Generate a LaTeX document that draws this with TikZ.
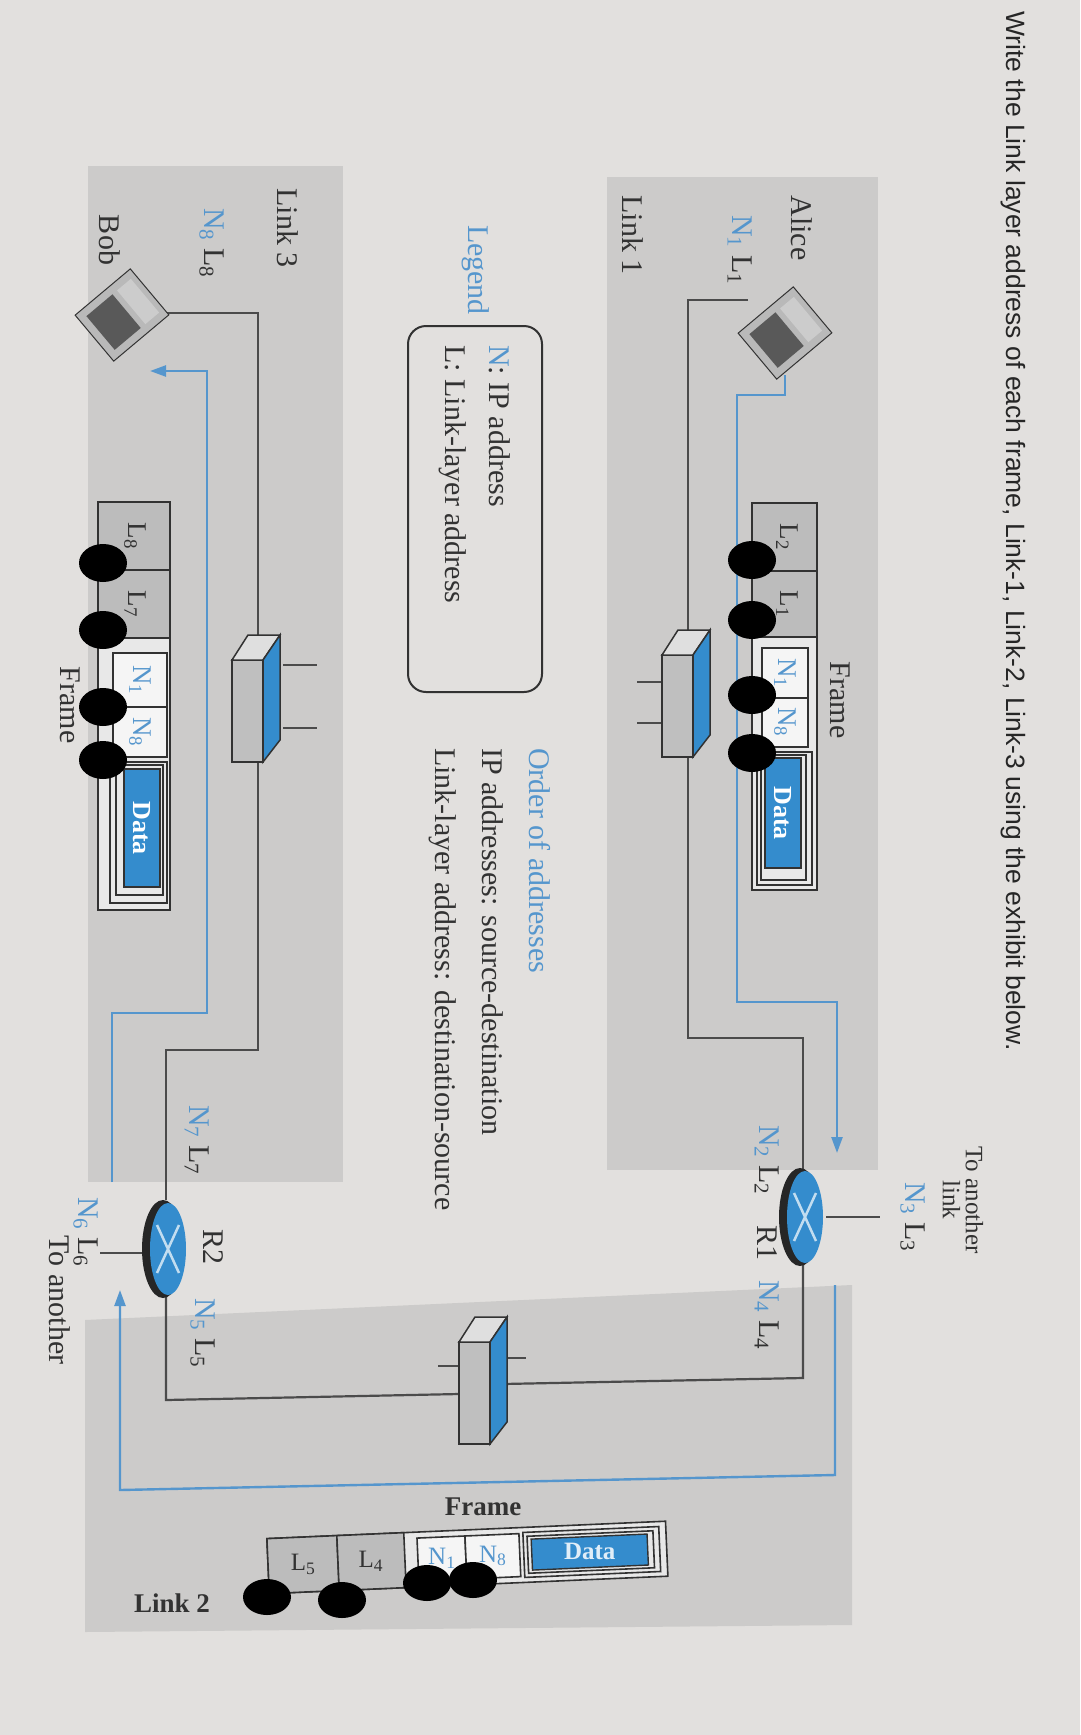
\documentclass[tikz,border=0pt]{standalone}
\usepackage{fontspec}
\setmainfont{Liberation Serif}
\newfontfamily\titlefont{Liberation Sans}
\usetikzlibrary{arrows.meta,shapes.geometric}
\definecolor{bgc}{RGB}{226,224,222}
\definecolor{panel}{RGB}{204,203,202}
\definecolor{netblue}{RGB}{52,140,205}
\definecolor{lblue}{RGB}{85,150,205}
\definecolor{ink}{RGB}{50,50,50}
\definecolor{cellg}{RGB}{188,188,188}
\definecolor{cellw}{RGB}{232,232,232}
\definecolor{wire}{RGB}{75,75,75}
\tikzset{
  lab/.style={rotate=-90, text=ink, font=\fontsize{30}{32}\selectfont, inner sep=0pt},
  blab/.style={lab, text=lblue},
  hlab/.style={text=ink, font=\fontsize{27}{29}\selectfont\bfseries, inner sep=0pt},
  cell/.style={rotate=-90, text=ink, font=\fontsize{27}{29}\selectfont, inner sep=0pt},
  hcell/.style={text=ink, font=\fontsize{25}{27}\selectfont, inner sep=0pt},
  fbox/.style={draw=ink, line width=1.6pt},
  gwire/.style={draw=wire, line width=2.2pt},
  bwire/.style={draw=lblue, line width=2.4pt},
  barrow/.style={bwire, -{Triangle[length=16pt,width=11pt]}},
  router/.pic={
    \fill[black!85] (-3,0) ellipse [x radius=21, y radius=49];
    \fill[netblue] (2,0) ellipse [x radius=18, y radius=46];
    \draw[white!70!netblue, line width=2.5pt] (-9,-24)--(13,24) (-9,24)--(13,-24);
  },
  switchbox/.pic={
    \filldraw[fill=gray!50, draw=ink, line width=1.5pt] (0,0) rectangle (31,102);
    \filldraw[fill=gray!25, draw=ink, line width=1.5pt] (0,0)--(16,-25)--(48,-25)--(31,0)--cycle;
    \filldraw[fill=netblue, draw=ink, line width=1.5pt] (31,0)--(48,-25)--(48,80)--(31,102)--cycle;
  },
  laptop/.pic={
    \begin{scope}[rotate=40]
      \filldraw[fill=gray!55, draw=gray!40!black, line width=1pt] (-36,-30) rectangle (36,30);
      \fill[gray!70!black] (-28,-22) rectangle (6,22);
      \fill[gray!40] (12,-22) rectangle (30,22);
    \end{scope}
  }
}
\begin{document}
\begin{tikzpicture}[x=1pt,y=-1pt]
\useasboundingbox (0,0) rectangle (1080,1735);
\fill[bgc] (0,0) rectangle (1080,1735);

% title
\node[rotate=-90, inner sep=0pt, text=black!85, font=\titlefont\fontsize{26.5}{28}\selectfont] (title) at (1013,531)
  {Write the Link layer address of each frame, Link-1, Link-2, Link-3 using the exhibit below.};

% panels
\fill[panel] (607,177) rectangle (878,1170);
\fill[panel] (88,166) rectangle (343,1182);
\fill[panel] (85,1320) -- (852,1285) -- (852,1625) -- (85,1632) -- cycle;

% named points
\coordinate (aliceG) at (748,300);
\coordinate (aliceB) at (785,375);
\coordinate (sw1top) at (688,645);
\coordinate (sw1bot) at (688,757);
\coordinate (r1top) at (803,1175);
\coordinate (r1bot) at (803,1262);
\coordinate (r1right) at (826,1217);
\coordinate (n3end) at (880,1217);
\coordinate (bobG) at (160,313);
\coordinate (bobB) at (150,371);
\coordinate (sw3top) at (258,650);
\coordinate (sw3bot) at (258,762);
\coordinate (r2top) at (166,1200);
\coordinate (r2bot) at (166,1297);
\coordinate (r2left) at (145,1253);
\coordinate (n6end) at (100,1253);
\coordinate (sw2r) at (503,1384);
\coordinate (sw2l) at (459,1394);

% Link 1 wires
\draw[gwire] (aliceG) -- (688,300) -- (sw1top);
\draw[gwire] (sw1bot) -- (688,1038) -- (803,1038) -- (r1top);
\draw[barrow] (aliceB) -- (785,395) -- (737,395) -- (737,1002) -- (837,1002) -- (837,1153);
% Link 3 wires
\draw[gwire] (bobG) -- (258,313) -- (sw3top);
\draw[gwire] (sw3bot) -- (258,1050) -- (166,1050) -- (r2top);
\draw[barrow] (112,1182) -- (112,1013) -- (207,1013) -- (207,371) -- (bobB);
% Link 2 wires
\draw[gwire] (r1bot) -- (803,1378) -- (sw2r);
\draw[gwire] (sw2l) -- (166,1400) -- (r2bot);
\draw[barrow] (835,1285) -- (835,1475) -- (120,1490) -- (120,1290);
\draw[gwire] (r1right) -- (n3end);
\draw[gwire] (r2left) -- (n6end);

% switch ports
\draw[gwire] (637,682) -- (662,682) (637,723) -- (662,723);
\draw[gwire] (283,665) -- (317,665) (283,728) -- (317,728);
\draw[gwire] (438,1366) -- (459,1366) (503,1358) -- (526,1358);

% switches, routers, laptops
\pic at (662,655) {switchbox};
\pic at (232,660) {switchbox};
\pic at (459,1342) {switchbox};
\pic at (803,1217) {router};
\pic at (166,1249) {router};
\pic at (785,333) {laptop};
\pic at (122,315) {laptop};

% Link 1 labels
\node[lab] (alice) at (802,228) {Alice};
\node[lab] (n1l1) at (740,250) {\textcolor{lblue}{N\textsubscript{1}} L\textsubscript{1}};
\node[lab] (link1) at (633,235) {Link 1};
\node[lab] (n2l2) at (767,1160) {\textcolor{lblue}{N\textsubscript{2}} L\textsubscript{2}};
\node[lab] (r1) at (767,1243) {R1};
\node[lab] (n4l4) at (767,1315) {\textcolor{lblue}{N\textsubscript{4}} L\textsubscript{4}};
\node[lab, align=center, font=\fontsize{25}{23}\selectfont] (toan1) at (963,1200) {To another\\link};
\node[lab] (n3l3) at (913,1217) {\textcolor{lblue}{N\textsubscript{3}} L\textsubscript{3}};
% Link 3 labels
\node[lab] (link3) at (288,228) {Link 3};
\node[lab] (n8l8) at (212,243) {\textcolor{lblue}{N\textsubscript{8}} L\textsubscript{8}};
\node[lab] (bob) at (110,240) {Bob};
\node[lab] (n7l7) at (197,1140) {\textcolor{lblue}{N\textsubscript{7}} L\textsubscript{7}};
\node[lab] (r2) at (213,1247) {R2};
\node[lab] (n5l5) at (203,1333) {\textcolor{lblue}{N\textsubscript{5}} L\textsubscript{5}};
\node[lab] (n6l6) at (86,1232) {\textcolor{lblue}{N\textsubscript{6}} L\textsubscript{6}};
\node[lab] (toan2) at (60,1300) {To another};

% legend
\node[blab] (legend) at (476,270) {Legend};
\draw[draw=ink, line width=2pt, rounded corners=18pt] (408,326) rectangle (542,692);
\node[lab, anchor=west] (lgn) at (500,345) {\textcolor{lblue}{N}: IP address};
\node[lab, anchor=west] (lgl) at (453,345) {L: Link-layer address};
\node[blab, anchor=west] (order) at (540,748) {Order of addresses};
\node[lab, anchor=west] (ordip) at (493,748) {IP addresses: source-destination};
\node[lab, anchor=west] (ordll) at (443,748) {Link-layer address: destination-source};

% Frame 1
\draw[fbox, fill=cellw] (752,503) rectangle (817,890);
\draw[fbox, fill=cellg] (752,503) rectangle (817,571);
\draw[fbox, fill=cellg] (752,571) rectangle (817,637);
\draw[fbox, fill=white!92!gray] (762,648) rectangle (808,698);
\draw[fbox, fill=white!92!gray] (762,698) rectangle (808,747);
\draw[fbox] (757,752) rectangle (812,885);
\draw[fbox] (761,755) rectangle (806,880);
\filldraw[fill=netblue, draw=ink, line width=1.4pt] (765,758) rectangle (801,868);
\node[cell] (f1a) at (787,537) {L\textsubscript{2}};
\node[cell] (f1b) at (787,604) {L\textsubscript{1}};
\node[cell, text=lblue] (f1c) at (785,673) {N\textsubscript{1}};
\node[cell, text=lblue] (f1d) at (785,722) {N\textsubscript{8}};
\node[cell, text=white, font=\fontsize{26}{28}\selectfont\bfseries] (f1e) at (783,813) {Data};
\node[lab] (fr1) at (840,700) {Frame};

% Frame 3
\draw[fbox, fill=cellw] (98,502) rectangle (170,910);
\draw[fbox, fill=cellg] (98,502) rectangle (170,570);
\draw[fbox, fill=cellg] (98,570) rectangle (170,638);
\draw[fbox, fill=white!92!gray] (113,653) rectangle (167,707);
\draw[fbox, fill=white!92!gray] (113,707) rectangle (167,757);
\draw[fbox] (110,762) rectangle (167,903);
\draw[fbox] (116,765) rectangle (163,895);
\filldraw[fill=netblue, draw=ink, line width=1.4pt] (124,769) rectangle (160,887);
\node[cell] (f3a) at (135,536) {L\textsubscript{8}};
\node[cell] (f3b) at (135,604) {L\textsubscript{7}};
\node[cell, text=lblue] (f3c) at (140,680) {N\textsubscript{1}};
\node[cell, text=lblue] (f3d) at (140,732) {N\textsubscript{8}};
\node[cell, text=white, font=\fontsize{26}{28}\selectfont\bfseries] (f3e) at (142,828) {Data};
\node[lab] (fr3) at (70,705) {Frame};

% Frame 2 (horizontal, slightly tilted)
\begin{scope}[rotate around={2.5:(465,1560)}]
\draw[fbox, fill=cellw] (268,1530) rectangle (667,1585);
\draw[fbox, fill=cellg] (268,1530) rectangle (338,1585);
\draw[fbox, fill=cellg] (338,1530) rectangle (405,1585);
\draw[fbox, fill=white!92!gray] (418,1536) rectangle (466,1579);
\draw[fbox, fill=white!92!gray] (466,1536) rectangle (520,1579);
\draw[fbox] (524,1535) rectangle (660,1580);
\draw[fbox] (528,1539) rectangle (654,1576);
\filldraw[fill=netblue, draw=ink, line width=1.4pt] (532,1542) rectangle (648,1573);
\node[hcell] (f2a) at (303,1557) {L\textsubscript{5}};
\node[hcell] (f2b) at (371,1557) {L\textsubscript{4}};
\node[hcell, text=lblue] (f2c) at (442,1557) {N\textsubscript{1}};
\node[hcell, text=lblue] (f2d) at (493,1557) {N\textsubscript{8}};
\node[hcell, text=white!85!netblue, font=\fontsize{25}{27}\selectfont\bfseries] (f2e) at (590,1557) {Data};
\end{scope}
\node[hlab] (fr2) at (483,1507) {Frame};
\node[hlab] (link2) at (172,1603) {Link 2};

% ink blobs
\foreach \y in {560,620,695,753} \fill[black] (752,\y) ellipse [x radius=24, y radius=19];
\foreach \y in {563,630,707,760} \fill[black] (103,\y) ellipse [x radius=24, y radius=19];
\foreach \x/\y in {267/1597,342/1600,427/1583,473/1580} \fill[black] (\x,\y) ellipse [x radius=24, y radius=18];
\end{tikzpicture}
\end{document}
